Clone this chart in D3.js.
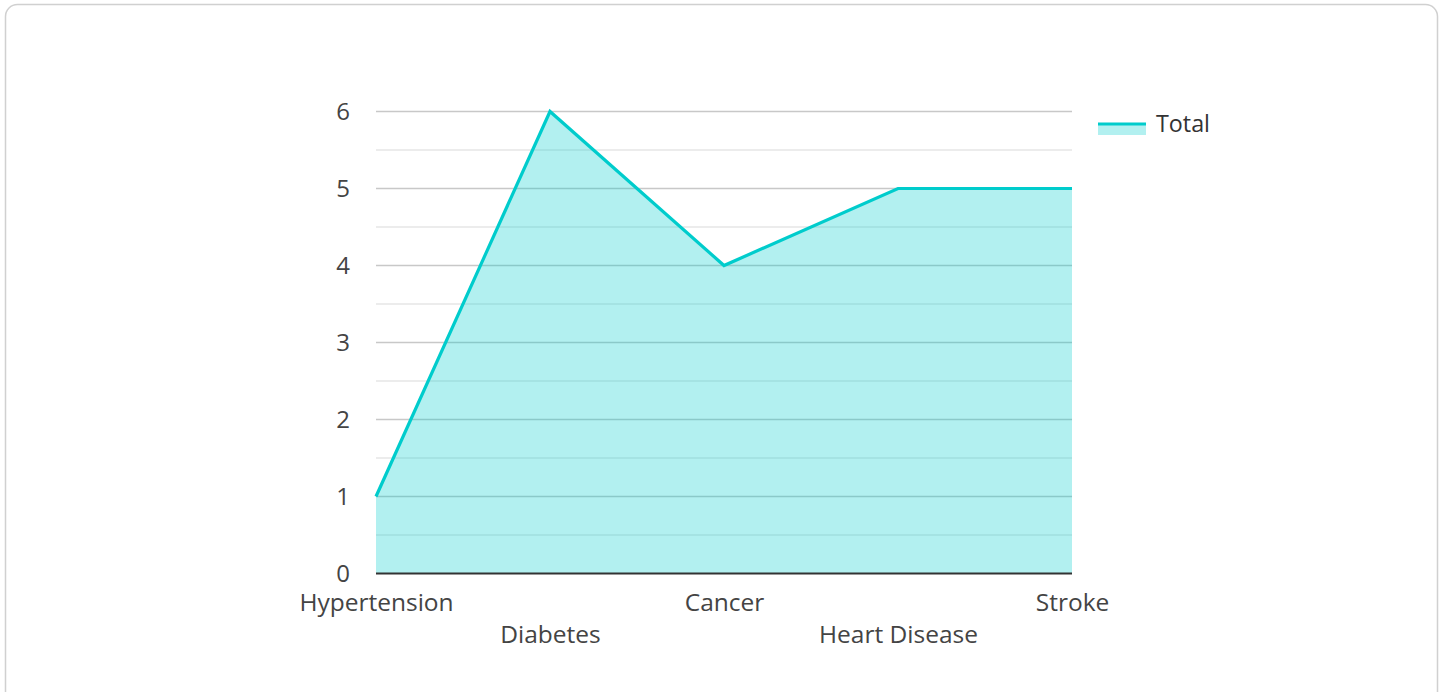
<!DOCTYPE html>
<html>
<head>
<meta charset="utf-8">
<script src="https://cdn.jsdelivr.net/npm/d3@7"></script>
<style>
  html, body { margin: 0; padding: 0; background: #fff; }
  svg { display: block; font-family: "Open Sans", sans-serif; }
</style>
</head>
<body>
<svg id="chart" width="1445" height="692"></svg>
<script>
const categories = ["Hypertension", "Diabetes", "Cancer", "Heart Disease", "Stroke"];
const totalValues = [1, 6, 4, 5, 5];
const yTicks = [0, 1, 2, 3, 4, 5, 6];
const seriesName = "Total";

(function () {
const svg = d3.select("#chart");
const lineColor = "#00cccc";
const fillColor = "rgba(0, 204, 204, 0.3)";

// card
svg.append("rect")
  .attr("x", 5.5).attr("y", 4.5)
  .attr("width", 1432).attr("height", 720)
  .attr("rx", 12).attr("ry", 12)
  .attr("fill", "#fff")
  .attr("stroke", "#d0d0d0")
  .attr("stroke-width", 1.5);

const pLeft = 376, pRight = 1072, pTop = 111.5, pBottom = 573.5;

const x = d3.scalePoint().domain(categories).range([pLeft, pRight]);
const y = d3.scaleLinear().domain([0, 6]).range([pBottom, pTop]);

// gridlines (minor and major)
const g = svg.append("g");
const minor = d3.range(0.5, 6, 1);
g.selectAll("line.minor").data(minor).enter().append("line")
  .attr("x1", pLeft).attr("x2", pRight)
  .attr("y1", d => y(d)).attr("y2", d => y(d))
  .attr("stroke", "#e6e6e6").attr("stroke-width", 1.5);
g.selectAll("line.major").data(yTicks.filter(d => d > 0)).enter().append("line")
  .attr("x1", pLeft).attr("x2", pRight)
  .attr("y1", d => y(d)).attr("y2", d => y(d))
  .attr("stroke", "#c8c8c8").attr("stroke-width", 1.5);

const data = categories.map((c, i) => ({ c, v: totalValues[i] }));

// area
const area = d3.area().x(d => x(d.c)).y0(y(0)).y1(d => y(d.v));
svg.append("path").datum(data)
  .attr("d", area)
  .attr("fill", fillColor);

// line
const line = d3.line().x(d => x(d.c)).y(d => y(d.v));
svg.append("path").datum(data)
  .attr("d", line)
  .attr("fill", "none")
  .attr("stroke", lineColor)
  .attr("stroke-width", 3.2)
  .attr("stroke-linejoin", "miter");

// y axis labels
const yAxis = d3.axisLeft(y).tickValues(yTicks).tickSize(0).tickPadding(26).tickFormat(d3.format("d"));
const ya = svg.append("g").attr("transform", `translate(${pLeft},0)`).call(yAxis);
ya.select(".domain").remove();
ya.selectAll("text").attr("font-size", 24).attr("fill", "#444")
  .attr("font-family", "'Open Sans', sans-serif");

// x axis
const xAxis = d3.axisBottom(x).tickSize(0).tickPadding(0);
const xa = svg.append("g").attr("transform", `translate(0,${pBottom})`).call(xAxis);
xa.select(".domain").attr("stroke", "#333").attr("stroke-width", 2)
  .attr("d", `M${pLeft},0H${pRight}`);
xa.selectAll("text")
  .attr("font-size", 24.5).attr("fill", "#444")
  .attr("font-family", "'Open Sans', sans-serif")
  .attr("dy", null)
  .attr("y", (d, i) => i % 2 === 0 ? 37.5 : 69.5);

// legend
const lg = svg.append("g");
lg.append("rect").attr("x", 1098).attr("y", 123).attr("width", 48).attr("height", 12).attr("fill", fillColor);
lg.append("line").attr("x1", 1098).attr("x2", 1146).attr("y1", 124).attr("y2", 124)
  .attr("stroke", lineColor).attr("stroke-width", 3);
lg.append("text").attr("x", 1156).attr("y", 131.5)
  .attr("font-size", 23.3).attr("fill", "#333").text(seriesName);
})();
</script>
</body>
</html>
